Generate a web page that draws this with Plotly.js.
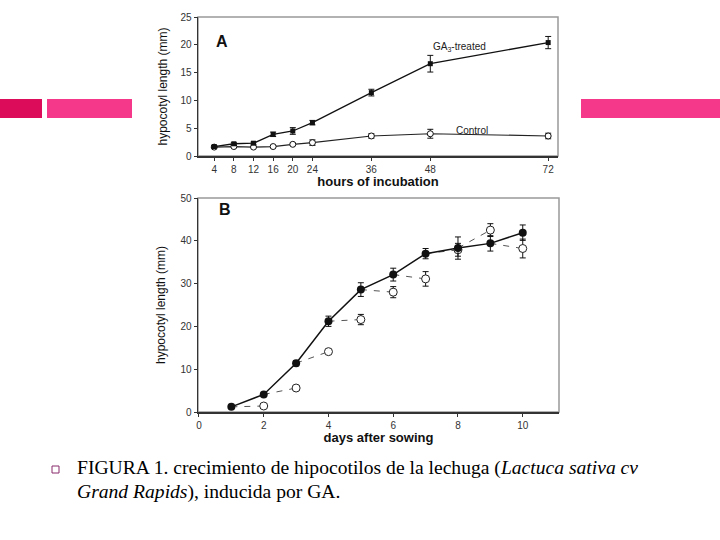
<!DOCTYPE html>
<html>
<head>
<meta charset="utf-8">
<script src="https://cdn.plot.ly/plotly-3.0.1.min.js"></script>
<style>html,body{margin:0;padding:0;background:#fff;}#chart{width:720px;height:540px;}</style>
</head>
<body>
<div id="chart"></div>
<script>
// Panel A: hours of incubation
const hoursA = [4, 8, 12, 16, 20, 24, 36, 48, 72];
const gaA = [1.7, 2.2, 2.3, 3.9, 4.5, 6.0, 11.4, 16.6, 20.4];
const gaAErr = [0.2, 0.2, 0.2, 0.4, 0.6, 0.4, 0.6, 1.5, 1.1];
const ctrlA = [1.6, 1.7, 1.6, 1.7, 2.1, 2.4, 3.6, 4.0, 3.6];
const ctrlAErr = [0.1, 0.1, 0.1, 0.2, 0.2, 0.5, 0.4, 0.8, 0.5];
const hoursTicks = [4, 8, 12, 16, 20, 24, 36, 48, 72];

// Panel B: days after sowing
const daysB = [1, 2, 3, 4, 5, 6, 7, 8, 9, 10];
const filledB = [1.2, 4.1, 11.4, 21.2, 28.6, 32.1, 37.0, 38.3, 39.4, 41.9];
const filledBErr = [0.2, 0.4, 0.6, 1.2, 1.6, 1.5, 1.2, 2.6, 1.8, 1.8];
const openDaysB = [2, 3, 4, 5, 6, 7, 8, 9, 10];
const openB = [1.4, 5.6, 14.1, 21.6, 28.0, 31.1, 37.9, 42.5, 38.2];
const openBErr = [0.2, 0.3, 0.4, 1.2, 1.3, 1.7, 1.5, 1.5, 2.2];

// dashed connectors: from each filled point to the open point of the following day
const dashX = [], dashY = [];
openDaysB.forEach((d, i) => {
  const fi = daysB.indexOf(d - 1);
  if (fi >= 0) { dashX.push(daysB[fi], d, null); dashY.push(filledB[fi], openB[i], null); }
});

const sans = 'Liberation Sans, Arial, sans-serif';
const serif = 'Liberation Serif, Times New Roman, serif';
const tickFont = {family: sans, size: 10, color: '#333'};

const errStyle = (arr) => ({type: 'data', array: arr, visible: true, color: '#111', thickness: 1, width: 3});

const traces = [
  {x: hoursA, y: ctrlA, error_y: errStyle(ctrlAErr), xaxis: 'x', yaxis: 'y', mode: 'lines+markers',
   line: {color: '#222', width: 1.2}, marker: {symbol: 'circle', size: 6, color: '#fff', line: {color: '#111', width: 1}}, name: 'Control'},
  {x: hoursA, y: gaA, error_y: errStyle(gaAErr), xaxis: 'x', yaxis: 'y', mode: 'lines+markers',
   line: {color: '#111', width: 1.3}, marker: {symbol: 'square', size: 5, color: '#111'}, name: 'GA3-treated'},
  {x: dashX, y: dashY, xaxis: 'x2', yaxis: 'y2', mode: 'lines', connectgaps: false,
   line: {color: '#555', width: 1, dash: '6px,7px'}, name: 'dash'},
  {x: openDaysB, y: openB, error_y: errStyle(openBErr), xaxis: 'x2', yaxis: 'y2', mode: 'markers',
   marker: {symbol: 'circle', size: 8, color: '#fff', line: {color: '#222', width: 1}}, name: 'open'},
  {x: daysB, y: filledB, error_y: errStyle(filledBErr), xaxis: 'x2', yaxis: 'y2', mode: 'lines+markers',
   line: {color: '#111', width: 1.5}, marker: {symbol: 'circle', size: 8, color: '#111'}, name: 'filled'}
];

const axBase = {showgrid: false, zeroline: false, showline: true, linecolor: '#333', linewidth: 1.5,
  ticks: 'outside', ticklen: 3, tickcolor: '#333', tickfont: tickFont};

const layout = {
  width: 720, height: 540, margin: {l: 0, r: 0, t: 0, b: 0},
  paper_bgcolor: '#fff', plot_bgcolor: '#fff', showlegend: false,
  xaxis: Object.assign({}, axBase, {domain: [198/720, 558/720], range: [0.7, 74], tickmode: 'array', tickvals: hoursTicks,
    ticktext: hoursTicks.map(String), anchor: 'y',
    title: {text: '<b>hours of incubation</b>', font: {family: sans, size: 13, color: '#111'}, standoff: 1}}),
  yaxis: Object.assign({}, axBase, {domain: [1 - 156/540, 1 - 17/540], range: [0, 25], dtick: 5, anchor: 'x',
    title: {text: 'hypocotyl length (mm)', font: {family: sans, size: 12, color: '#111'}, standoff: 10}}),
  xaxis2: Object.assign({}, axBase, {domain: [198/720, 559/720], range: [-0.03, 11.12], dtick: 2, anchor: 'y2',
    title: {text: '<b>days after sowing</b>', font: {family: sans, size: 13, color: '#111'}, standoff: 1}}),
  yaxis2: Object.assign({}, axBase, {domain: [1 - 412/540, 1 - 198/540], range: [0, 50], dtick: 10, anchor: 'x2',
    title: {text: 'hypocotyl length (mm)', font: {family: sans, size: 12, color: '#111'}, standoff: 12}}),
  shapes: [
    {type: 'rect', xref: 'x domain', yref: 'y domain', x0: 0, x1: 1, y0: 0, y1: 1, line: {color: '#999', width: 1.5}, layer: 'below'},
    {type: 'rect', xref: 'x2 domain', yref: 'y2 domain', x0: 0, x1: 1, y0: 0, y1: 1, line: {color: '#999', width: 1.5}, layer: 'below'},
    {type: 'rect', xref: 'paper', yref: 'paper', x0: 0, x1: 42/720, y0: 1 - 118/540, y1: 1 - 99/540, fillcolor: '#dc0c5a', line: {width: 0}},
    {type: 'rect', xref: 'paper', yref: 'paper', x0: 47/720, x1: 132/720, y0: 1 - 118/540, y1: 1 - 99/540, fillcolor: '#f5388a', line: {width: 0}},
    {type: 'rect', xref: 'paper', yref: 'paper', x0: 581/720, x1: 1, y0: 1 - 118/540, y1: 1 - 99/540, fillcolor: '#f5388a', line: {width: 0}},
    {type: 'rect', xref: 'paper', yref: 'paper', x0: 52/720, x1: 59/720, y0: 1 - 473/540, y1: 1 - 466/540, fillcolor: '#fff', line: {color: '#8a2a6a', width: 1}}
  ],
  annotations: [
    {text: '<b>A</b>', xref: 'paper', yref: 'paper', x: 214/720, y: 1 - 31/540, showarrow: false, font: {family: sans, size: 16, color: '#111'}},
    {text: '<b>B</b>', xref: 'paper', yref: 'paper', x: 217/720, y: 1 - 210/540, showarrow: false, font: {family: sans, size: 16, color: '#111'}},
    {text: 'GA<sub>3</sub>-treated', xref: 'paper', yref: 'paper', x: 488/720, y: 1 - 39/540, showarrow: false, font: {family: sans, size: 10, color: '#222'}},
    {text: 'Control', xref: 'paper', yref: 'paper', x: 490/720, y: 1 - 123/540, showarrow: false, font: {family: sans, size: 10, color: '#222'}},
    {text: 'FIGURA 1. crecimiento de hipocotilos de la lechuga (<i>Lactuca sativa cv</i>', xref: 'paper', yref: 'paper',
     x: 75/720, y: 1 - 468/540, xanchor: 'left', yanchor: 'middle', showarrow: false, font: {family: serif, size: 19.6, color: '#000'}},
    {text: '<i>Grand Rapids</i>), inducida por GA.', xref: 'paper', yref: 'paper',
     x: 75/720, y: 1 - 492/540, xanchor: 'left', yanchor: 'middle', showarrow: false, font: {family: serif, size: 19.6, color: '#000'}}
  ]
};

Plotly.newPlot('chart', traces, layout, {displayModeBar: false, staticPlot: true});
</script>
</body>
</html>
